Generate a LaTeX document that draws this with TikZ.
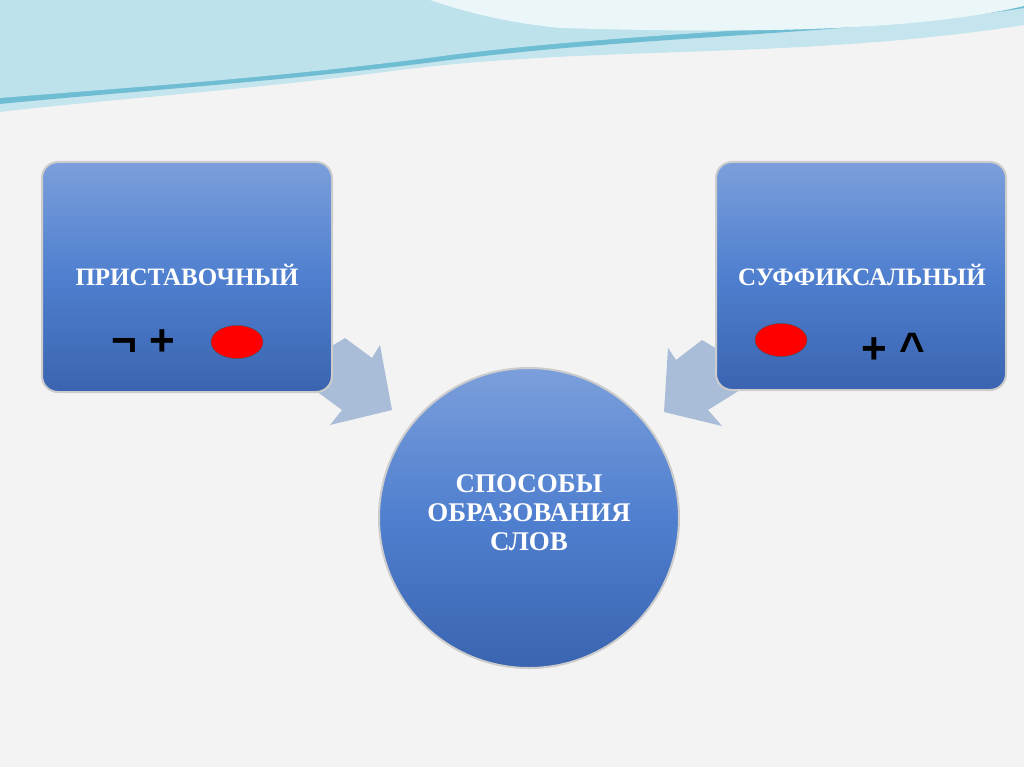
\documentclass[tikz,border=0pt]{standalone}
\usepackage{fontspec}
\setmainfont{Liberation Serif}
\newfontfamily\symf{Liberation Sans}
\usetikzlibrary{shapes.geometric}
\definecolor{bg}{HTML}{F3F3F3}
\definecolor{boxblue}{HTML}{4F7FCF}
\definecolor{boxdark}{HTML}{3A64B0}
\definecolor{arrowc}{HTML}{A9BCD8}
\definecolor{wave1}{HTML}{7CC6D8}
\definecolor{wave2}{HTML}{3FA7C4}
\tikzset{
  bluebox/.style={draw=gray!40,line width=2pt,rounded corners=16pt,top color=boxblue!75!white,bottom color=boxdark,middle color=boxblue},
  lbl/.style={text=white,font=\bfseries\fontsize{25}{30}\selectfont,align=center},
  clbl/.style={text=white,font=\bfseries\fontsize{27}{29}\selectfont,align=center},
  sym/.style={font=\symf\bfseries\fontsize{44}{44}\selectfont},
  redov/.style={draw=black!70,fill=red,ellipse,minimum width=52pt,minimum height=33pt,inner sep=0pt},
  fatarrow/.style={fill=arrowc,draw=none}
}
\begin{document}
\begin{tikzpicture}[x=1pt,y=-1pt]
\useasboundingbox (0,0) rectangle (1024,767);
\fill[bg] (0,0) rectangle (1024,767);
% top wave
\fill[wave1!45!white] (0,0) -- (1024,0) -- (1024,25) .. controls (800,60) and (600,45) .. (400,70) .. controls (250,90) and (100,100) .. (0,112) -- cycle;
\fill[wave2!75!white] (0,0) -- (1024,0) -- (1024,8) .. controls (850,35) and (650,35) .. (450,60) .. controls (280,82) and (120,92) .. (0,104) -- cycle;
\fill[wave1!50!white] (0,0) -- (1024,0) -- (1024,3) .. controls (850,30) and (650,30) .. (450,55) .. controls (280,78) and (120,88) .. (0,98) -- cycle;
\fill[white!85!wave1] (430,0) -- (1024,0) -- (1024,6) .. controls (900,35) and (700,32) .. (560,28) .. controls (500,22) and (460,10) .. (430,0) -- cycle;
% arrows
\fill[fatarrow] (325,350) -- (345,338) -- (372,358) -- (380,345) -- (392,410) -- (330,425) -- (342,410) -- (312,388) -- cycle;
\fill[fatarrow] (722,352) -- (702,340) -- (676,360) -- (668,348) -- (664,412) -- (722,426) -- (708,410) -- (740,390) -- cycle;
% boxes
\draw[bluebox] (42,162) rectangle (332,392);
\draw[bluebox] (716,162) rectangle (1006,390);
% circle
\node[circle,draw=gray!40,line width=2pt,top color=boxblue!75!white,bottom color=boxdark,middle color=boxblue,minimum size=300pt] (c) at (529,518) {};
\node[clbl] (ct) at (529,513) {СПОСОБЫ\\ОБРАЗОВАНИЯ\\СЛОВ};
\node[lbl] (lt) at (187,275) {ПРИСТАВОЧНЫЙ};
\node[lbl] (rt) at (862,275) {СУФФИКСАЛЬНЫЙ};
\node[sym] (ls) at (143,343) {¬ +};
\node[redov] (le) at (237,342) {};
\node[redov] (re) at (781,340) {};
\node[sym] (rs) at (893,348) {+ \^{}};
\end{tikzpicture}
\end{document}
